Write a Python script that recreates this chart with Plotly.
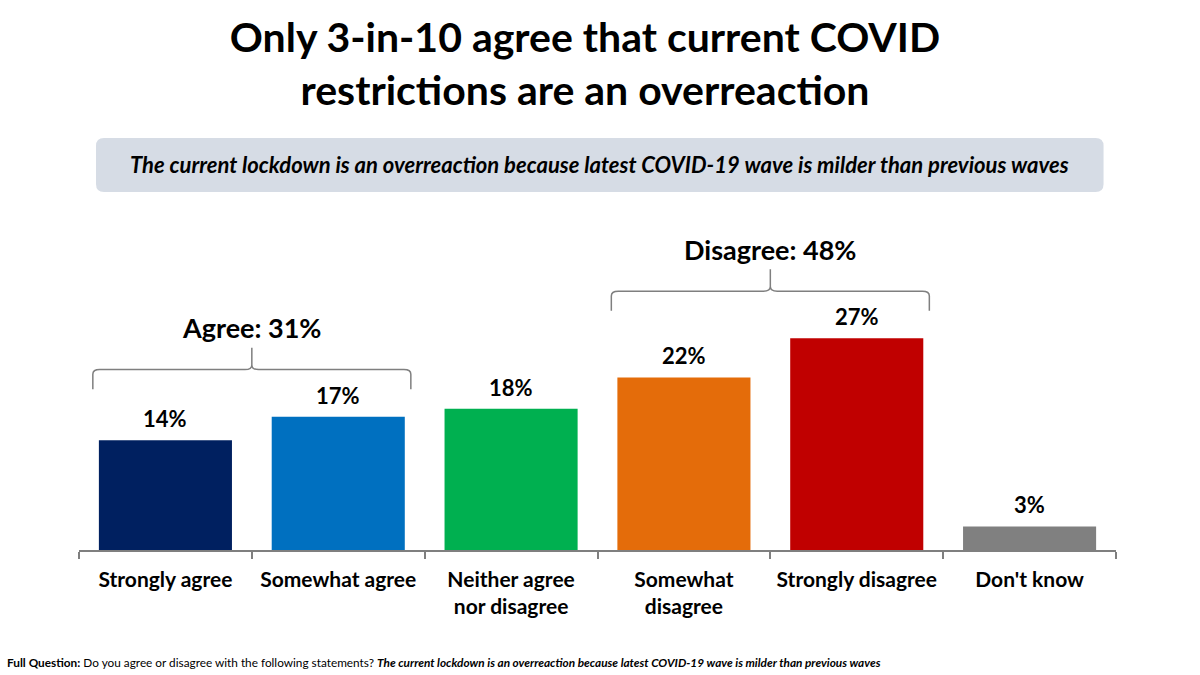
import plotly.graph_objects as go

categories = ["Strongly agree", "Somewhat agree", "Neither agree<br>nor disagree",
              "Somewhat<br>disagree", "Strongly disagree", "Don't know"]
values = [14, 17, 18, 22, 27, 3]
value_labels = ["14%", "17%", "18%", "22%", "27%", "3%"]
colors = ["#002060", "#0070C0", "#00B050", "#E46C0A", "#C00000", "#808080"]

groups = [("Agree: 31%", [0, 1]), ("Disagree: 48%", [3, 4])]

title_text = "Only 3-in-10 agree that current COVID<br>restrictions are an overreaction"
subtitle_text = "The current lockdown is an overreaction because latest COVID-19 wave is milder than previous waves"
footer_text = ("<b>Full Question:</b> Do you agree or disagree with the following statements? "
               "<b><i>The current lockdown is an overreaction because latest COVID-19 wave is milder than previous waves</i></b>")

FONT = "Lato"
x_idx = list(range(len(categories)))

fig = go.Figure()
fig.add_trace(go.Bar(
    x=x_idx, y=values, marker=dict(color=colors, line=dict(width=0)),
    cliponaxis=False, width=0.77, hoverinfo="skip",
))

shapes = []
annotations = []

# value labels above bars
for i, (v, lab) in enumerate(zip(values, value_labels)):
    annotations.append(dict(x=i, y=v, xref="x", yref="y", text=lab, showarrow=False,
                            yanchor="bottom", yshift=6,
                            font=dict(family=FONT, size=22, color="#000000", weight="bold")))

line_col = "#7F7F7F"
for label, idxs in groups:
    x0 = min(idxs) - 0.42
    x1 = max(idxs) + 0.42
    xc = (x0 + x1) / 2
    top = max(values[i] for i in idxs) + 6
    low = top - 2.5
    peak = top + 2.8
    dx = 0.04
    dy = 0.6
    path = (f"M {x0},{low} L {x0},{top-dy} Q {x0},{top} {x0+dx},{top} "
            f"L {xc-dx},{top} Q {xc},{top} {xc},{top+dy} L {xc},{peak} "
            f"M {xc},{top+dy} Q {xc},{top} {xc+dx},{top} "
            f"L {x1-dx},{top} Q {x1},{top} {x1},{top-dy} L {x1},{low}")
    shapes.append(dict(type="path", path=path, xref="x", yref="y",
                       line=dict(color=line_col, width=1.5)))
    annotations.append(dict(x=xc, y=top + 5.35, xref="x", yref="y", text=label,
                            showarrow=False, yanchor="middle",
                            font=dict(family=FONT, size=27, color="#000000", weight="bold")))

# subtitle box (paper coords)
bx0, bx1, by0, by1 = 0.0164, 0.988, 1.119, 1.2875
rx, ry = 8 / 1037, 8 / 320
box_path = (f"M {bx0+rx},{by0} L {bx1-rx},{by0} Q {bx1},{by0} {bx1},{by0+ry} "
            f"L {bx1},{by1-ry} Q {bx1},{by1} {bx1-rx},{by1} L {bx0+rx},{by1} "
            f"Q {bx0},{by1} {bx0},{by1-ry} L {bx0},{by0+ry} Q {bx0},{by0} {bx0+rx},{by0} Z")
shapes.append(dict(type="path", path=box_path, xref="paper", yref="paper",
                   fillcolor="#D6DCE5", line=dict(width=0), layer="below"))
annotations.append(dict(x=(bx0 + bx1) / 2, y=(by0 + by1) / 2, xref="paper", yref="paper",
                        text=f"<b><i>{subtitle_text}</i></b>", showarrow=False,
                        xanchor="center", yanchor="middle",
                        font=dict(family=FONT, size=22, color="#000000")))
annotations.append(dict(x=-0.0714, y=-0.35, xref="paper", yref="paper", xanchor="left",
                        yanchor="middle", text=footer_text, showarrow=False,
                        font=dict(family=FONT, size=11.8, color="#000000")))

fig.update_layout(
    width=1200, height=675,
    margin=dict(l=79, r=84, t=230, b=125),
    paper_bgcolor="white", plot_bgcolor="white",
    showlegend=False,
    title=dict(text=title_text, x=585 / 1200, xanchor="center", y=1 - 52 / 675, yanchor="middle",
               font=dict(family=FONT, size=41, color="#000000", weight="bold")),
    shapes=shapes, annotations=annotations,
    xaxis=dict(type="linear", range=[-0.5, 5.5], tickvals=x_idx, ticktext=categories,
               ticks="", showgrid=False, zeroline=False, showline=True,
               linecolor="#7F7F7F", linewidth=1.5,
               tickfont=dict(family=FONT, size=21, color="#000000", weight="bold"),
               ticklabelstandoff=10,
               minor=dict(tickvals=[i - 0.5 for i in range(len(categories) + 1)],
                          ticks="outside", ticklen=7, tickcolor="#7F7F7F", tickwidth=1.5,
                          showgrid=False)),
    yaxis=dict(range=[0, 40.8], visible=False, showgrid=False, zeroline=False),
)

fig.write_html("out.html")
